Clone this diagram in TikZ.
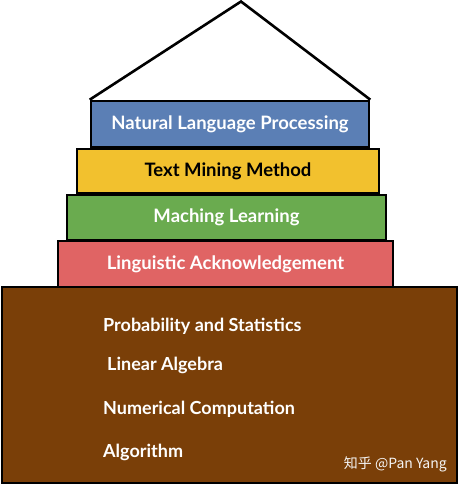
\documentclass[tikz,border=0pt]{standalone}
\usepackage{fontspec}
\setmainfont{Lato}
\newfontfamily\cjkfont{Noto Sans CJK SC}
\usetikzlibrary{positioning}
\definecolor{nlpblue}{RGB}{91,127,181}
\definecolor{tmyellow}{RGB}{242,193,46}
\definecolor{mlgreen}{RGB}{106,171,79}
\definecolor{lared}{RGB}{224,100,100}
\definecolor{basebrown}{RGB}{122,63,8}

\tikzset{
  layer/.style={draw=black, line width=2.6pt, inner sep=0pt, font=\bfseries\fontsize{18.5}{21}\selectfont, text=white},
  topic/.style={anchor=west, inner sep=0pt, text=white, font=\bfseries\fontsize{18}{21}\selectfont}
}

\begin{document}
\begin{tikzpicture}[x=1pt,y=-1pt]
  \useasboundingbox (0,0) rectangle (459,485);

  % layers
  \node[layer, fill=nlpblue, minimum width=278pt, minimum height=46pt] (nlp) at (230,124) {Natural Language Processing};
  \node[layer, fill=tmyellow, text=black, minimum width=302pt, minimum height=44pt] (tm) at (228,171) {Text Mining Method};
  \node[layer, fill=mlgreen, minimum width=319pt, minimum height=45pt] (ml) at (226.5,217.5) {Maching Learning};
  \node[layer, fill=lared, minimum width=335pt, minimum height=46pt] (ling) at (225.5,264) {Linguistic Acknowledgement};
  \node[layer, fill=basebrown, minimum width=455pt, minimum height=196pt] (base) at (229.5,385) {};

  % roof
  \coordinate (apex) at (241,1.5);
  \draw[line width=2.6pt, line join=miter] (nlp.north west) -- (apex) -- (nlp.north east);

  % foundations
  \node[topic] (prob) at (103,326) {Probability and Statistics};
  \node[topic] (linalg) at (107,365) {Linear Algebra};
  \node[topic] (numc) at (103,409) {Numerical Computation};
  \node[topic] (algo) at (103,452) {Algorithm};

  % watermark
  \node[anchor=east, inner sep=0pt, text=white!92!gray, font=\cjkfont\fontsize{14}{16}\selectfont] (mark) at (447,464) {知乎 @Pan Yang};
\end{tikzpicture}
\end{document}
